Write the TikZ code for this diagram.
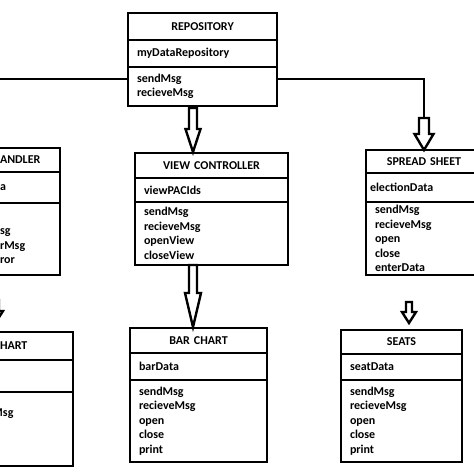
\documentclass[tikz,border=0pt]{standalone}
\usepackage{fontspec}
\setmainfont{Carlito}
\usetikzlibrary{positioning,calc}

\tikzset{
  umlhead/.style={draw, line width=2.6pt, outer sep=0pt, inner xsep=9pt, inner ysep=1pt,
    text width=#1, align=center, font=\bfseries\fontsize{12}{14.5}\selectfont},
  umlpart/.style={umlhead=#1, align=left},
  link/.style={line width=2.4pt},
  hollow/.style={line width=2.4pt, line join=miter},
}

% hollow block arrow: from, tip, shaft half width, head half width, head length
\newcommand{\blockarrow}[5]{%
  \draw[hollow] ($(#1)+(-#3,0)$) -- ($(#2)+(-#3,-#5)$) -- ($(#2)+(-#4,-#5)$) -- (#2)
    -- ($(#2)+(#4,-#5)$) -- ($(#2)+(#3,-#5)$) -- ($(#1)+(#3,0)$) -- cycle;}

\begin{document}
\begin{tikzpicture}[x=1pt, y=-1pt]
    \clip (0,0) rectangle (474,474);

    \node[umlhead=131pt, minimum height=27pt, anchor=north west] (repoT) at (128,13) {REPOSITORY};
    \node[umlpart=131pt, minimum height=27pt, below=0pt of repoT] (repoA) {myDataRepository};
    \node[umlpart=131pt, minimum height=39pt, below=0pt of repoA] (repoM) {sendMsg\\recieveMsg};

    \node[umlhead=51pt, align=left, minimum height=24pt, anchor=north west] (handT) at (-9,148) {ANDLER};
    \node[umlpart=51pt, minimum height=31pt, below=0pt of handT] (handA) {a};
    \node[umlpart=51pt, minimum height=72pt, below=0pt of handA] (handM) {\phantom{sg}\\sg\\rMsg\\ror};

    \node[umlhead=135pt, minimum height=25pt, anchor=north west] (vcT) at (135,153) {VIEW CONTROLLER};
    \node[umlpart=135pt, minimum height=24pt, below=0pt of vcT] (vcA) {viewPACIds};
    \node[umlpart=135pt, minimum height=63pt, below=0pt of vcA] (vcM) {sendMsg\\recieveMsg\\openView\\closeView};

    \node[umlhead=98pt, minimum height=23pt, anchor=north west] (sheetT) at (366,150) {SPREAD SHEET};
    \node[umlpart=108pt, inner xsep=4pt, minimum height=29pt, below=0pt of sheetT] (sheetA) {electionData};
    \node[umlpart=98pt, minimum height=73pt, below=0pt of sheetA] (sheetM) {sendMsg\\recieveMsg\\open\\close\\enterData};

    \node[umlhead=64pt, align=left, minimum height=28pt, anchor=north west] (chartT) at (-9,332) {HART};
    \node[umlpart=64pt, minimum height=32pt, below=0pt of chartT] (chartA) {};
    \node[umlpart=64pt, minimum height=74pt, below=0pt of chartA] (chartM) {\phantom{sg}\\\hspace*{-7.5pt}Msg\\\phantom{sg}\\\phantom{sg}\\\phantom{sg}};

    \node[umlhead=119pt, minimum height=25pt, anchor=north west] (barT) at (130,328) {BAR CHART};
    \node[umlpart=119pt, minimum height=27pt, below=0pt of barT] (barA) {barData};
    \node[umlpart=119pt, minimum height=82pt, below=0pt of barA] (barM) {sendMsg\\recieveMsg\\open\\close\\print};

    \node[umlhead=103pt, minimum height=24pt, anchor=north west] (seatT) at (341,330) {SEATS};
    \node[umlpart=103pt, minimum height=26pt, below=0pt of seatT] (seatA) {seatData};
    \node[umlpart=103pt, minimum height=82pt, below=0pt of seatA] (seatM) {sendMsg\\recieveMsg\\open\\close\\print};

    \coordinate (leftEnd) at (-5,79);
    \coordinate (sheetIn) at (424,118);
    \coordinate (repoOut) at (193,108);
    \coordinate (vcIn) at (193,152);
    \coordinate (vcOut) at (193,265);
    \coordinate (barIn) at (193,327);
    \coordinate (seatFrom) at (409,302);
    \coordinate (seatTo) at (409,323);
    \coordinate (chartFrom) at (-4,300);
    \coordinate (chartTo) at (-4,322);

    \draw[link] (leftEnd) -- (leftEnd -| repoM.west);
    \draw[link] (leftEnd -| repoM.east) -| (sheetIn);
    \blockarrow{sheetIn}{sheetT.north}{5}{9.5}{16}
    \blockarrow{repoOut}{vcIn}{4}{7.5}{23}
    \blockarrow{vcOut}{barIn}{4}{8}{34}
    \blockarrow{seatFrom}{seatTo}{3}{7}{11}
    \blockarrow{chartFrom}{chartTo}{3}{7}{11}
\end{tikzpicture}
\end{document}
